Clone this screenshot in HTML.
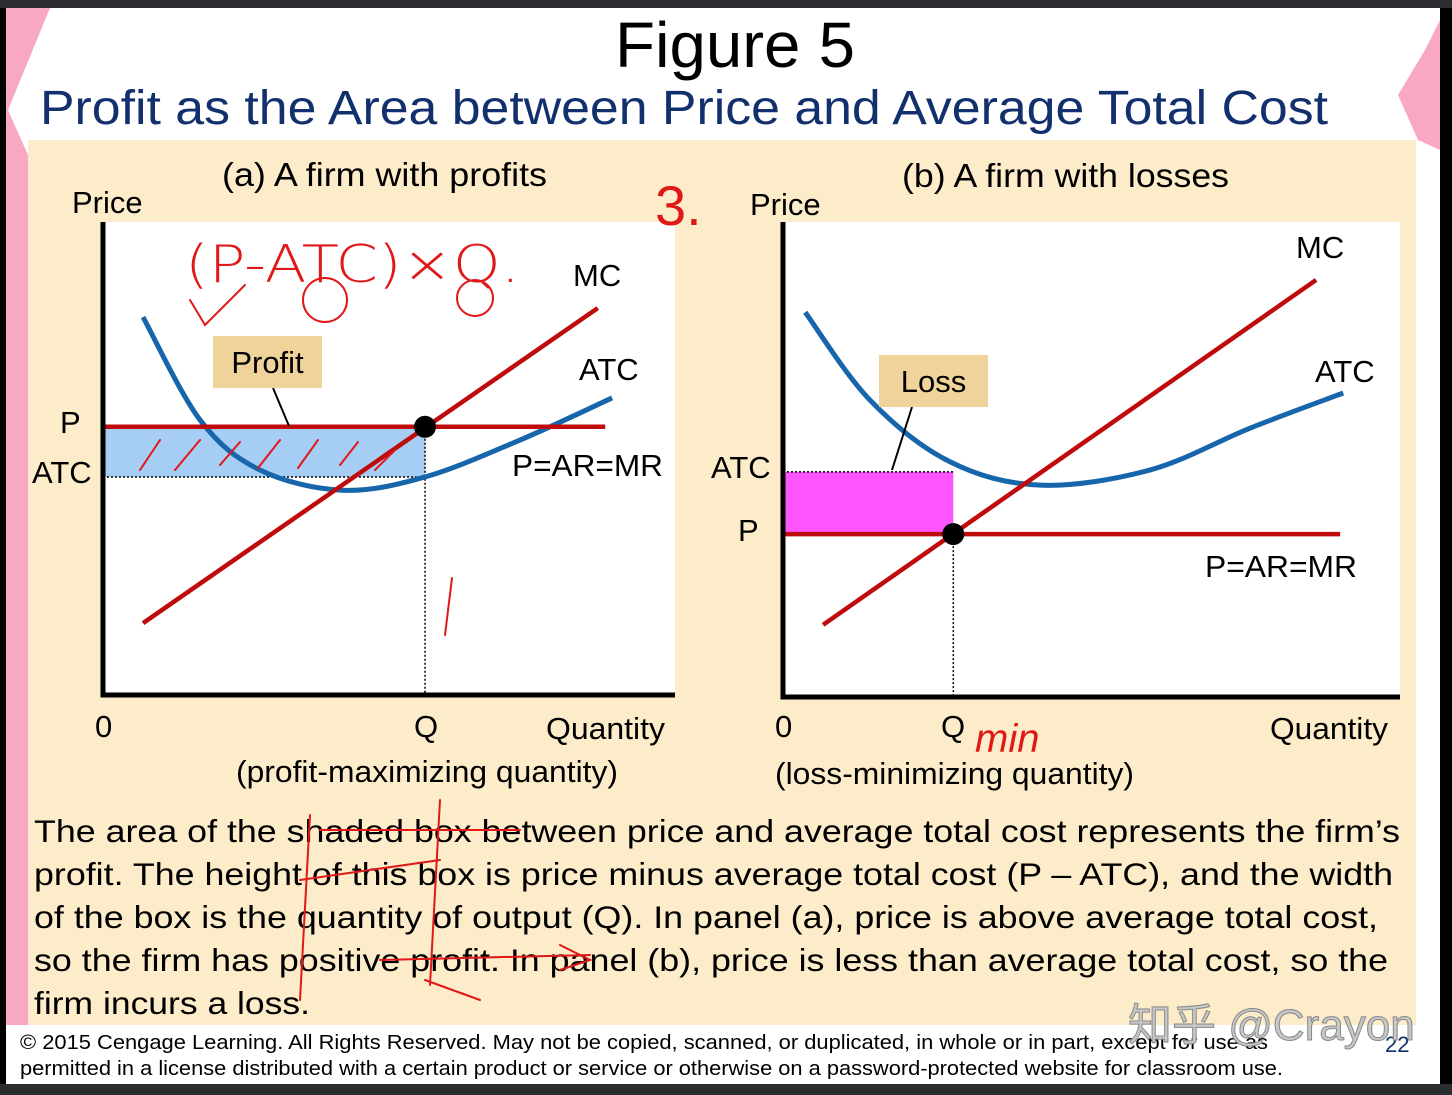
<!DOCTYPE html>
<html><head><meta charset="utf-8">
<style>
html,body{margin:0;padding:0;background:#2b2d30;}
body{width:1452px;height:1090px;position:relative;overflow:hidden;font-family:"Liberation Sans","Noto Sans CJK SC",sans-serif;}
</style></head>
<body>
<svg id="slide" width="1452" height="1090" viewBox="0 0 1452 1090" xmlns="http://www.w3.org/2000/svg" font-family="Liberation Sans, Noto Sans CJK SC, sans-serif">
  <rect x="0" y="0" width="1452" height="1090" fill="#2b2d30"/>
  <rect x="0" y="8" width="6" height="1076" fill="#000"/>
  <rect x="1440" y="8" width="12" height="1076" fill="#000"/>
  <rect x="6" y="8" width="1434" height="1076" fill="#fff"/>
  <polygon points="6,8 50,8 8,110 28,155 28,1025 6,1025" fill="#f8a8c0"/>
  <polygon points="1440,20 1440,150 1418,140 1398,95 1425,50" fill="#f8a8c0"/>
  <text x="615" y="67" font-size="64" textLength="240" lengthAdjust="spacingAndGlyphs" fill="#000">Figure 5</text>
  <text x="40" y="124" font-size="48" textLength="1288" lengthAdjust="spacingAndGlyphs" fill="#13306e">Profit as the Area between Price and Average Total Cost</text>
  <rect x="28" y="140" width="1388" height="885" fill="#fcecc9"/>

  <g id="panelA">
    <rect x="103" y="222" width="572" height="473" fill="#fff"/>
  </g>
  <g id="panelB">
    <rect x="783" y="222" width="617" height="475" fill="#fff"/>
  </g>

  <text x="222" y="186" font-size="33" textLength="325" lengthAdjust="spacingAndGlyphs">(a) A firm with profits</text>
  <text x="72" y="213" font-size="31">Price</text>
  <text x="902" y="187" font-size="33" textLength="327" lengthAdjust="spacingAndGlyphs">(b) A firm with losses</text>
  <text x="750" y="215" font-size="31">Price</text>

  <g font-size="31">
    <text x="95" y="737">0</text>
    <text x="414" y="737">Q</text>
    <text x="546" y="739" textLength="119" lengthAdjust="spacingAndGlyphs">Quantity</text>
    <text x="236" y="782" textLength="382" lengthAdjust="spacingAndGlyphs">(profit-maximizing quantity)</text>
    <text x="60" y="433">P</text>
    <text x="32" y="483">ATC</text>
    <text x="573" y="286">MC</text>
    <text x="579" y="380">ATC</text>
    <text x="512" y="476" textLength="151" lengthAdjust="spacingAndGlyphs">P=AR=MR</text>
    <text x="775" y="737">0</text>
    <text x="941" y="737">Q</text>
    <text x="1270" y="739" textLength="118" lengthAdjust="spacingAndGlyphs">Quantity</text>
    <text x="775" y="784" textLength="359" lengthAdjust="spacingAndGlyphs">(loss-minimizing quantity)</text>
    <text x="738" y="541">P</text>
    <text x="711" y="478">ATC</text>
    <text x="1296" y="258">MC</text>
    <text x="1315" y="382">ATC</text>
    <text x="1205" y="577" textLength="152" lengthAdjust="spacingAndGlyphs">P=AR=MR</text>
  </g>

  <g font-size="31.5" fill="#000" lengthAdjust="spacingAndGlyphs">
    <text x="34" y="842" textLength="1366" lengthAdjust="spacingAndGlyphs">The area of the shaded box between price and average total cost represents the firm’s</text>
    <text x="34" y="885" textLength="1359" lengthAdjust="spacingAndGlyphs">profit. The height of this box is price minus average total cost (P – ATC), and the width</text>
    <text x="34" y="928" textLength="1344" lengthAdjust="spacingAndGlyphs">of the box is the quantity of output (Q). In panel (a), price is above average total cost,</text>
    <text x="34" y="971" textLength="1354" lengthAdjust="spacingAndGlyphs">so the firm has positive profit. In panel (b), price is less than average total cost, so the</text>
    <text x="34" y="1014" textLength="276" lengthAdjust="spacingAndGlyphs">firm incurs a loss.</text>
  </g>
  <g font-size="20.5" fill="#000">
    <text x="20" y="1049" textLength="1248" lengthAdjust="spacingAndGlyphs">© 2015 Cengage Learning. All Rights Reserved. May not be copied, scanned, or duplicated, in whole or in part, except for use as</text>
    <text x="20" y="1075" textLength="1263" lengthAdjust="spacingAndGlyphs">permitted in a license distributed with a certain product or service or otherwise on a password-protected website for classroom use.</text>
  </g>
  <text x="1385" y="1052" font-size="22" fill="#13306e">22</text>

  <g fill="none" stroke="#e01818" stroke-width="2" stroke-linecap="round">
    <text x="185" y="282" font-size="52" textLength="335" lengthAdjust="spacingAndGlyphs" fill="#e01818" stroke="none" font-family="DejaVu Sans, sans-serif" font-weight="200">(P-ATC)×Q.</text>
    <circle cx="325" cy="300" r="22"/><circle cx="475" cy="298" r="18"/>
    <text x="655" y="225" font-size="56" fill="#e01818" stroke="none">3.</text>
    <text x="975" y="752" font-size="40" fill="#e01818" stroke="none" font-style="italic">min</text>
    <path d="M140,470 L160,440 M175,470 L200,440 M220,465 L240,442 M258,468 L280,440 M298,468 L318,440 M340,465 L358,442 M375,470 L395,450"/>
    <path d="M190,300 L205,325 L245,285"/>
    <path d="M445,635 L452,578"/>
    <path d="M310,815 L300,1000 M440,800 L430,985 M320,830 L520,830 M300,880 L440,860 M380,960 L590,955 M560,945 L590,960 L560,970 M425,980 L480,1000"/>
  </g>
  <text x="1128" y="1040" font-size="44" fill="#c8c8c8" stroke="#888" stroke-width="1">知乎 @Crayon</text>
</svg>
<script>
// Panel A data (quantity 0..10, price 0..10)
const aMC = [[0.7,1.52],[8.65,8.18]];
const aATC = [[0.7,7.99],[1.7,5.81],[2.74,4.76],[4.18,4.33],[5.63,4.61],[7.29,5.39],[8.9,6.28]];
const aPrice = 5.67, aPriceEnd = 8.78, aQ = 5.63, aATCatQ = 4.61;
// Panel B data
const bMC = [[0.65,1.52],[8.64,8.78]];
const bATC = [[0.36,8.1],[1.41,6.25],[2.71,4.95],[4.17,4.46],[5.95,4.78],[7.57,5.66],[9.08,6.4]];
const bPrice = 3.43, bPriceEnd = 9.03, bQ = 2.76, bATCatQ = 4.74;

const NS = "http://www.w3.org/2000/svg";
function mk(parent, tag, attrs){const e=document.createElementNS(NS,tag);for(const k in attrs)e.setAttribute(k,attrs[k]);parent.appendChild(e);return e;}
function smooth(pts){
  let d=`M${pts[0][0]},${pts[0][1]}`;
  for(let i=0;i<pts.length-1;i++){
    const p0=pts[i-1]||pts[i],p1=pts[i],p2=pts[i+1],p3=pts[i+2]||p2;
    const c1=[p1[0]+(p2[0]-p0[0])/6,p1[1]+(p2[1]-p0[1])/6];
    const c2=[p2[0]-(p3[0]-p1[0])/6,p2[1]-(p3[1]-p1[1])/6];
    d+=` C${c1[0]},${c1[1]} ${c2[0]},${c2[1]} ${p2[0]},${p2[1]}`;
  }
  return d;
}
function drawPanel(g,x0,x1,y0,y1,mc,atc,price,priceEnd,q,atcQ,profit,prefix,labelBox){
  const sx=v=>x0+v*(x1-x0)/10, sy=v=>y0-v*(y0-y1)/10;
  const top=Math.min(price,atcQ), bot=Math.max(price,atcQ);
  let e=mk(g,'rect',{x:x0,y:sy(bot),width:sx(q)-x0,height:sy(top)-sy(bot),fill:profit?'#a6cdf3':'#ff55ff'});
  
  
  e=mk(g,'line',{x1:sx(q),y1:sy(price),x2:sx(q),y2:y0,stroke:'#000','stroke-width':1.5,'stroke-dasharray':'2,2'});
  
  
  e=mk(g,'line',{x1:x0,y1:sy(atcQ),x2:sx(q),y2:sy(atcQ),stroke:'#000','stroke-width':1.5,'stroke-dasharray':'2,2'});
  
  
  e=mk(g,'path',{d:smooth(atc.map(p=>[sx(p[0]),sy(p[1])])),fill:'none',stroke:'#1766ab','stroke-width':5});
  
  
  e=mk(g,'line',{x1:x0,y1:sy(price),x2:sx(priceEnd),y2:sy(price),stroke:'#bf0b0b','stroke-width':4.5});
  
  
  e=mk(g,'line',{x1:sx(mc[0][0]),y1:sy(mc[0][1]),x2:sx(mc[1][0]),y2:sy(mc[1][1]),stroke:'#bf0b0b','stroke-width':4.5});
  
  
  e=mk(g,'circle',{cx:sx(q),cy:sy(price),r:11,fill:'#000'});
  
  
  e=mk(g,'line',{x1:labelBox.lx1,y1:labelBox.ly1,x2:labelBox.lx2,y2:labelBox.ly2,stroke:'#000','stroke-width':2});
  
  
  e=mk(g,'rect',{x:labelBox.x,y:labelBox.y,width:labelBox.w,height:labelBox.h,fill:'#efd39a'});
  
  
  e=mk(g,'text',{x:labelBox.x+labelBox.w/2,y:labelBox.y+labelBox.h/2+11,'font-size':31,'text-anchor':'middle'});
  e.textContent=labelBox.t;
  
  
  e=mk(g,'path',{d:`M${x0},${y1} L${x0},${y0} L${x1},${y0}`,fill:'none',stroke:'#000','stroke-width':5});
  
  
}
drawPanel(document.getElementById('panelA'),103,675,695,222,aMC,aATC,aPrice,aPriceEnd,aQ,aATCatQ,true,'panel-a',
  {x:213,y:336,w:109,h:52,t:'Profit',lx1:273,ly1:388,lx2:289,ly2:426});
drawPanel(document.getElementById('panelB'),783,1400,697,222,bMC,bATC,bPrice,bPriceEnd,bQ,bATCatQ,false,'panel-b',
  {x:879,y:355,w:109,h:52,t:'Loss',lx1:912,ly1:407,lx2:892,ly2:470});
</script>
</body></html>
